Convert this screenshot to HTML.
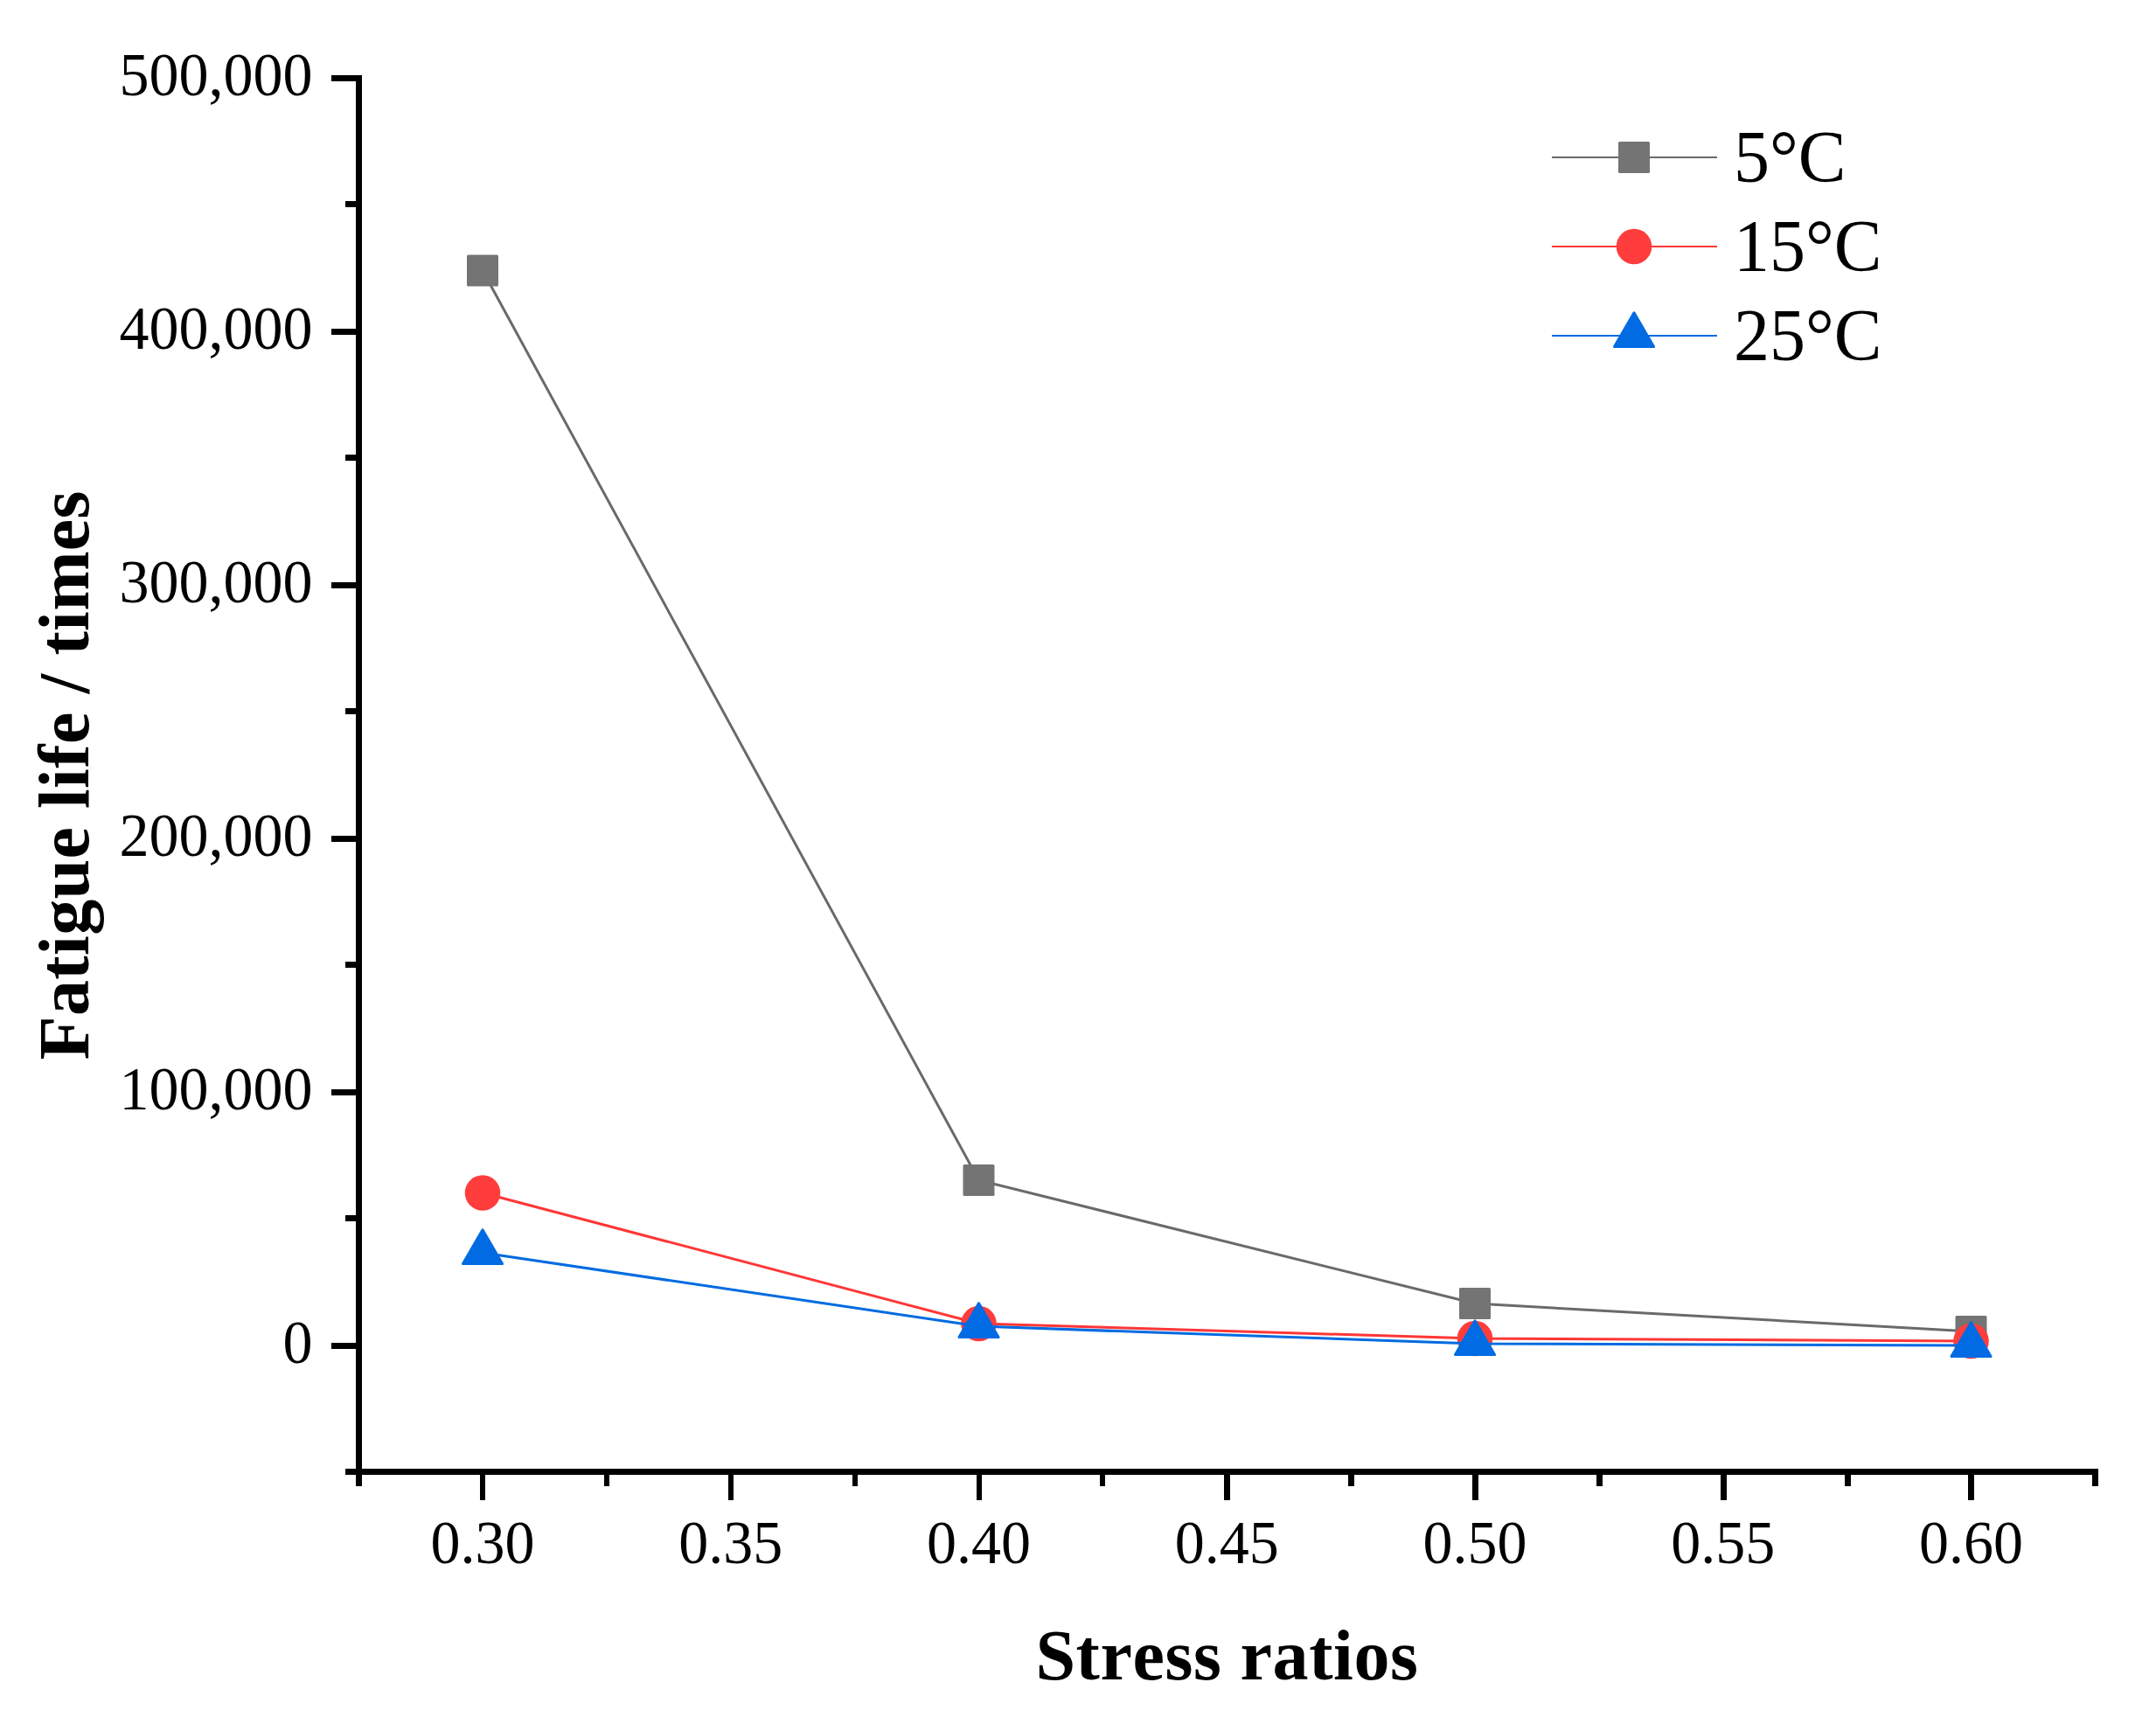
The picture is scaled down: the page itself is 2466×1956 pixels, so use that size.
<!DOCTYPE html>
<html lang="en"><head><meta charset="utf-8"><title>Fatigue life vs stress ratios</title>
<style>html,body{margin:0;padding:0;background:#fff}body{width:2466px;height:1956px;overflow:hidden}svg{display:block}text{font-kerning:none;font-variant-ligatures:none;font-family:"Liberation Serif",serif;fill:#000}.tk{font-size:68px}.lg{font-size:82px}.ti{font-size:82px;font-weight:bold}</style></head><body>
<svg width="2466" height="1956" viewBox="0 0 2466 1956">
<rect width="2466" height="1956" fill="#fff"/>
<g fill="#000" shape-rendering="crispEdges">
<rect x="407" y="86" width="7" height="1601"/>
<rect x="395" y="1680" width="2005" height="7"/>
<rect x="379" y="1536.0" width="30" height="7"/>
<rect x="395" y="1390.0" width="14" height="7"/>
<rect x="379" y="1246.0" width="30" height="7"/>
<rect x="395" y="1100.0" width="14" height="7"/>
<rect x="379" y="956.0" width="30" height="7"/>
<rect x="395" y="810.0" width="14" height="7"/>
<rect x="379" y="666.0" width="30" height="7"/>
<rect x="395" y="520.0" width="14" height="7"/>
<rect x="379" y="376.0" width="30" height="7"/>
<rect x="395" y="230.0" width="14" height="7"/>
<rect x="379" y="86.0" width="30" height="7"/>
<rect x="407.0" y="1685" width="7" height="15"/>
<rect x="549.0" y="1685" width="6" height="31"/>
<rect x="691.0" y="1685" width="6" height="15"/>
<rect x="833.0" y="1685" width="6" height="31"/>
<rect x="975.0" y="1685" width="6" height="15"/>
<rect x="1117.0" y="1685" width="6" height="31"/>
<rect x="1258.0" y="1685" width="6" height="15"/>
<rect x="1400.0" y="1685" width="7" height="31"/>
<rect x="1542.0" y="1685" width="7" height="15"/>
<rect x="1684.0" y="1685" width="7" height="31"/>
<rect x="1826.0" y="1685" width="7" height="15"/>
<rect x="1968.0" y="1685" width="7" height="31"/>
<rect x="2110.0" y="1685" width="7" height="15"/>
<rect x="2251.0" y="1685" width="7" height="31"/>
<rect x="2393.0" y="1685" width="7" height="15"/>
</g>
<g class="tk" text-anchor="end">
<text transform="translate(357.5 1559.0) scale(1 1.02)">0</text>
<text transform="translate(357.5 1269.0) scale(1 1.02)">100,000</text>
<text transform="translate(357.5 979.0) scale(1 1.02)">200,000</text>
<text transform="translate(357.5 689.0) scale(1 1.02)">300,000</text>
<text transform="translate(357.5 399.0) scale(1 1.02)">400,000</text>
<text transform="translate(357.5 109.0) scale(1 1.02)">500,000</text>
</g>
<g class="tk" text-anchor="middle">
<text transform="translate(552.0 1788.3) scale(1 1.02)">0.30</text>
<text transform="translate(835.8 1788.3) scale(1 1.02)">0.35</text>
<text transform="translate(1119.5 1788.3) scale(1 1.02)">0.40</text>
<text transform="translate(1403.2 1788.3) scale(1 1.02)">0.45</text>
<text transform="translate(1687.0 1788.3) scale(1 1.02)">0.50</text>
<text transform="translate(1970.8 1788.3) scale(1 1.02)">0.55</text>
<text transform="translate(2254.5 1788.3) scale(1 1.02)">0.60</text>
</g>
<text class="ti" text-anchor="middle" letter-spacing="0.6" x="1403.5" y="1921">Stress ratios</text>
<text class="ti" text-anchor="middle" letter-spacing="0.34" transform="translate(101 886.8) rotate(-90)">Fatigue life / times</text>
<polyline fill="none" stroke="#6a6a6a" stroke-width="3" points="552.0,309.5 1119.5,1350.0 1687.0,1491.0 2254.5,1523.0"/>
<rect x="534.0" y="291.5" width="36" height="36" rx="1.5" fill="#747474"/>
<rect x="1101.5" y="1332.0" width="36" height="36" rx="1.5" fill="#747474"/>
<rect x="1669.0" y="1473.0" width="36" height="36" rx="1.5" fill="#747474"/>
<rect x="2236.5" y="1505.0" width="36" height="36" rx="1.5" fill="#747474"/>
<polyline fill="none" stroke="#ff3636" stroke-width="3" points="552.0,1364.5 1119.5,1514.0 1687.0,1531.0 2254.5,1534.0"/>
<circle cx="552.0" cy="1364.5" r="20.3" fill="#ff3d3d"/>
<circle cx="1119.5" cy="1514.0" r="20.3" fill="#ff3d3d"/>
<circle cx="1687.0" cy="1531.0" r="20.3" fill="#ff3d3d"/>
<circle cx="2254.5" cy="1534.0" r="20.3" fill="#ff3d3d"/>
<polyline fill="none" stroke="#006be0" stroke-width="3" points="552.0,1433.0 1119.5,1517.0 1687.0,1537.0 2254.5,1539.0"/>
<polygon points="552.0,1406.7 574.5,1445.6 529.5,1445.6" fill="#006be3" stroke="#006be3" stroke-width="3" stroke-linejoin="round"/>
<polygon points="1119.5,1490.7 1142.0,1529.6 1097.0,1529.6" fill="#006be3" stroke="#006be3" stroke-width="3" stroke-linejoin="round"/>
<polygon points="1687.0,1510.7 1709.5,1549.6 1664.5,1549.6" fill="#006be3" stroke="#006be3" stroke-width="3" stroke-linejoin="round"/>
<polygon points="2254.5,1512.7 2277.0,1551.6 2232.0,1551.6" fill="#006be3" stroke="#006be3" stroke-width="3" stroke-linejoin="round"/>
<rect x="1775" y="179" width="189" height="2" fill="#6a6a6a" shape-rendering="crispEdges"/>
<rect x="1851.0" y="162.0" width="36" height="36" rx="1.5" fill="#747474"/>
<text class="lg" transform="translate(1983 208) scale(1 1.022)">5°C</text>
<rect x="1775" y="281" width="189" height="2" fill="#ff3636" shape-rendering="crispEdges"/>
<circle cx="1869.0" cy="282.0" r="20.3" fill="#ff3d3d"/>
<text class="lg" transform="translate(1983 310) scale(1 1.022)">15°C</text>
<rect x="1775" y="383" width="189" height="2" fill="#006be0" shape-rendering="crispEdges"/>
<polygon points="1869.0,357.7 1891.5,396.6 1846.5,396.6" fill="#006be3" stroke="#006be3" stroke-width="3" stroke-linejoin="round"/>
<text class="lg" transform="translate(1983 412) scale(1 1.022)">25°C</text>
</svg></body></html>
